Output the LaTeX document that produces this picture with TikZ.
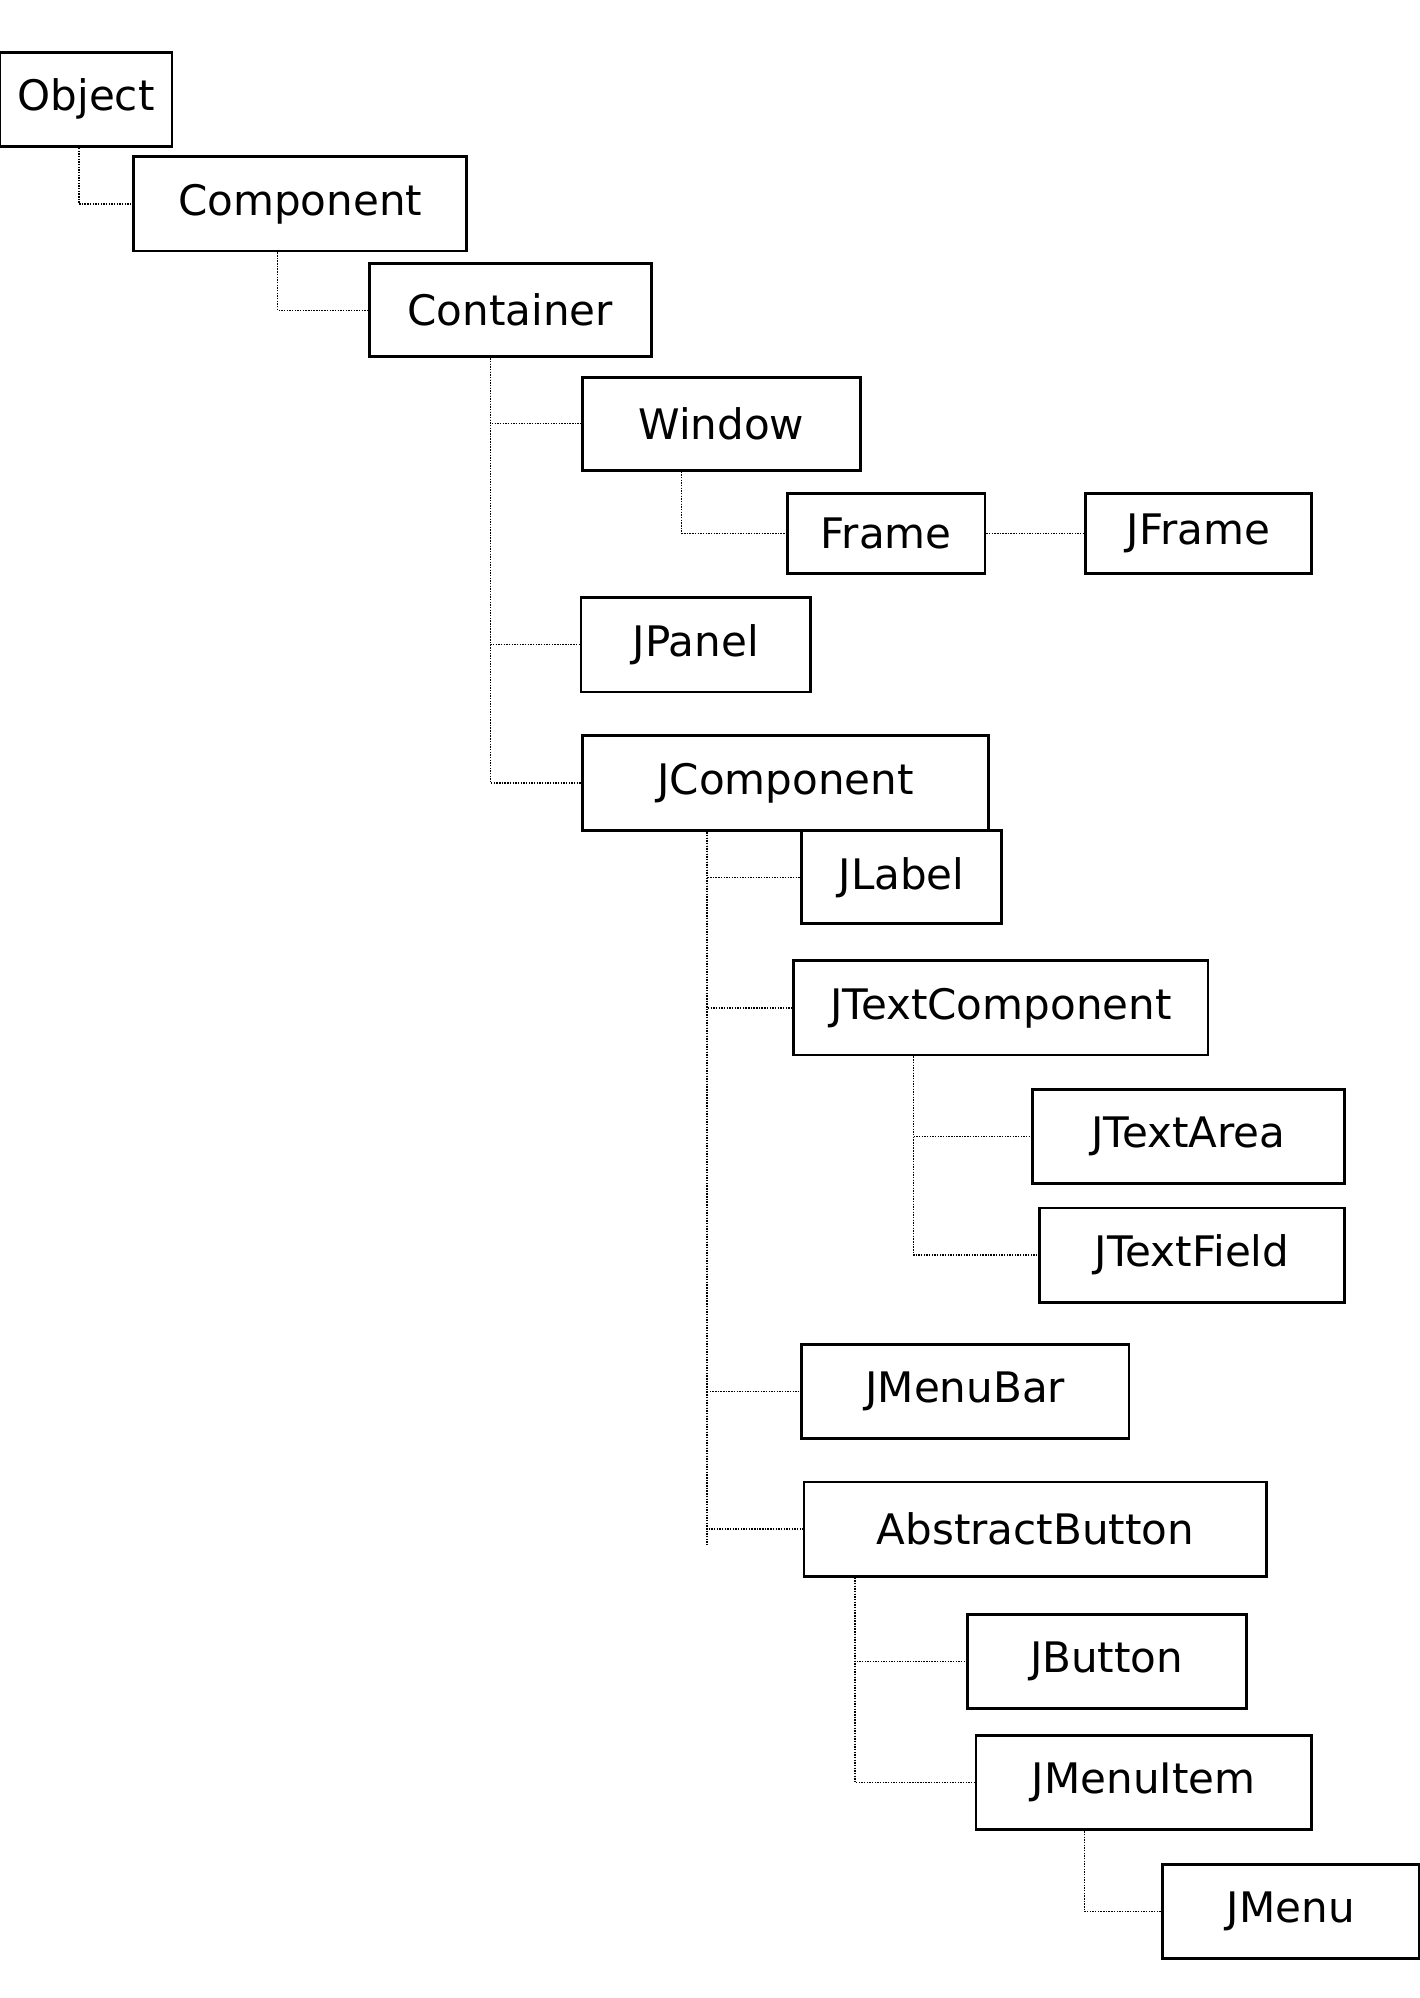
\documentclass[tikz,border=0pt]{standalone}
\usepackage{fontspec}
\setmainfont{DejaVu Sans}
\begin{document}
\begin{tikzpicture}[x=1pt,y=-1pt,
  box/.style={draw,line width=2.2pt,inner sep=0pt,font=\fontsize{33}{36}\selectfont},
  dots/.style={densely dotted,line width=1.1pt}]
\useasboundingbox (0,0) rectangle (1114,1568);
\newcommand{\bx}[6]{\node[box,minimum width={#4-#2},minimum height={#5-#3}] (#1) at ({(#2+#4)/2},{(#3+#5)/2}) {#6};}
\bx{obj}{0}{41}{135}{115}{Object}
\bx{comp}{105}{123}{366}{197}{Component}
\bx{cont}{290}{207}{511}{280}{Container}
\bx{win}{457}{296}{675}{369}{Window}
\bx{frame}{618}{387}{773}{450}{Frame}
\bx{jframe}{852}{387}{1029}{450}{JFrame}
\bx{jpanel}{456}{469}{636}{543}{JPanel}
\bx{jcomp}{457}{577}{776}{652}{JComponent}
\bx{jlabel}{629}{652}{786}{725}{JLabel}
\bx{jtc}{623}{754}{948}{828}{JTextComponent}
\bx{jta}{810}{855}{1055}{929}{JTextArea}
\bx{jtf}{816}{948}{1055}{1022}{JTextField}
\bx{jmb}{629}{1055}{886}{1129}{JMenuBar}
\bx{ab}{631}{1163}{994}{1237}{AbstractButton}
\bx{jb}{759}{1267}{978}{1341}{JButton}
\bx{jmi}{766}{1362}{1029}{1436}{JMenuItem}
\bx{jm}{912}{1463}{1114}{1537}{JMenu}
\draw[dots] (obj.south west) ++(63,0) |- (comp.west);
\draw[dots] (comp.south west) ++(114,0) |- (cont.west);
\draw[dots] (cont.south west) ++(96,0) coordinate (t1) |- (win.west);
\draw[dots] (t1) |- (jpanel.west);
\draw[dots] (t1) |- (jcomp.west);
\draw[dots] (win.south west) ++(79,0) |- (frame.west);
\draw[dots] (frame.east) -- (jframe.west);
\draw[dots] (jcomp.south west) ++(99,0) coordinate (t2) -- ++(0,560);
\draw[dots] (t2) |- (jlabel.west);
\draw[dots] (t2) |- (jtc.west);
\draw[dots] (t2) |- (jmb.west);
\draw[dots] (t2) |- (ab.west);
\draw[dots] (jtc.south west) ++(95,0) coordinate (t3) |- (jta.west);
\draw[dots] (t3) |- (jtf.west);
\draw[dots] (ab.south west) ++(41,0) coordinate (t4) |- (jb.west);
\draw[dots] (t4) |- (jmi.west);
\draw[dots] (jmi.south west) ++(86,0) |- (jm.west);
\end{tikzpicture}
\end{document}
